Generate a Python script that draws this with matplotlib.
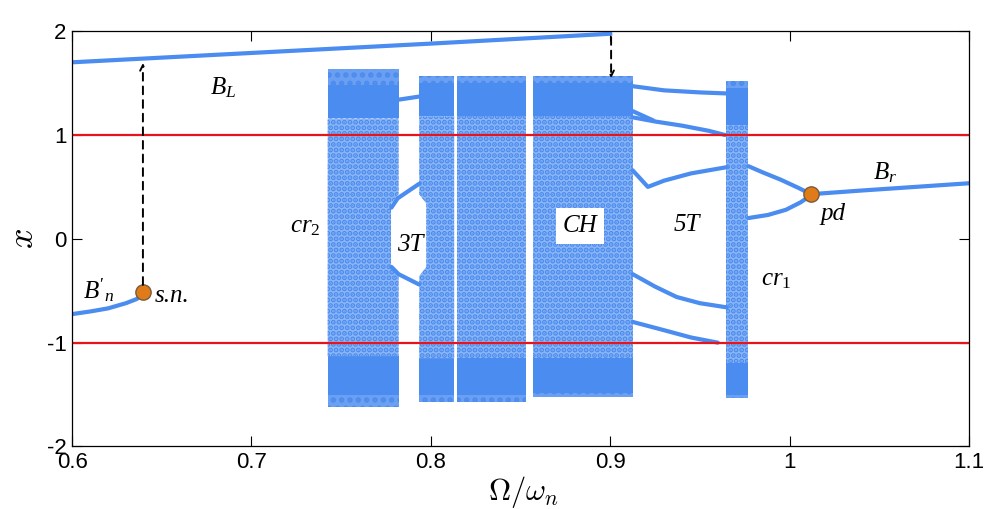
import numpy as np
import matplotlib.pyplot as plt

plt.rcParams['mathtext.fontset'] = 'custom'
plt.rcParams['mathtext.rm'] = 'Liberation Serif'
plt.rcParams['mathtext.it'] = 'Liberation Serif:italic'
plt.rcParams['hatch.linewidth'] = 2.6
plt.rcParams['axes.unicode_minus'] = False

# periodic branches (Omega/omega_n, x)
om_BL = [0.6, 0.7, 0.8, 0.9]
x_BL = [1.70, 1.79, 1.88, 1.975]
om_Bn = [0.6, 0.61, 0.62, 0.63, 0.636, 0.6395]
x_Bn = [-0.725, -0.70, -0.67, -0.62, -0.58, -0.53]
om_Br = [1.012, 1.04, 1.07, 1.1]
x_Br = [0.43, 0.465, 0.50, 0.535]

# 3T window
om_3T = [[0.782, 0.7935], [0.778, 0.7815, 0.7935], [0.778, 0.782, 0.7935]]
x_3T = [[1.34, 1.37], [0.30, 0.39, 0.53], [-0.27, -0.34, -0.44]]

# 5T window
om_5T = [[0.9125, 0.93, 0.95, 0.965],
         [0.9125, 0.925, 0.94, 0.955, 0.964],
         [0.9125, 0.924],
         [0.9125, 0.921, 0.93, 0.945, 0.965],
         [0.9125, 0.925, 0.937, 0.95, 0.965],
         [0.9125, 0.93, 0.945, 0.96]]
x_5T = [[1.47, 1.43, 1.41, 1.40],
        [1.17, 1.13, 1.09, 1.04, 1.0],
        [1.23, 1.14],
        [0.66, 0.50, 0.56, 0.63, 0.69],
        [-0.34, -0.46, -0.56, -0.62, -0.66],
        [-0.80, -0.88, -0.95, -1.0]]

# period-2 branches ending at pd
om_p2 = [[0.977, 0.985, 0.995, 1.005, 1.012], [0.977, 0.988, 0.998, 1.006, 1.012]]
x_p2 = [[0.70, 0.64, 0.57, 0.49, 0.43], [0.20, 0.23, 0.28, 0.35, 0.42]]

# chaotic bands
chaos_left = [0.7425, 0.7935, 0.8145, 0.857, 0.9645]
chaos_right = [0.782, 0.813, 0.853, 0.9125, 0.977]
chaos_top = [1.64, 1.57, 1.57, 1.57, 1.52]
chaos_bot = [-1.62, -1.57, -1.57, -1.52, -1.53]
dense_up = [(1.16, 1.48), (1.18, 1.50), (1.18, 1.50), (1.18, 1.50), (1.10, 1.45)]
dense_lo = [(-1.50, -1.13), (-1.50, -1.15), (-1.50, -1.15), (-1.48, -1.15), (-1.50, -1.20)]
# notch around the 3T window (sparse part): y levels and edge shifts
notch_y = [-0.36, -0.27, 0.34, 0.43]
cr2_right_notch = [0.782, 0.7778, 0.7778, 0.782]
bandB_left_notch = [0.7935, 0.7975, 0.7975, 0.7935]

sn_pt = (0.6395, -0.515)
pd_pt = (1.0118, 0.43)

blue = '#4a8cf0'
light = '#8db6f5'
mid = '#6a9ff2'

fig = plt.figure(figsize=(10.01, 5.09), dpi=100)
ax = fig.add_axes([0.072, 0.1228, 0.896, 0.816])

for i in range(len(chaos_left)):
    xs = [chaos_left[i], chaos_right[i]]
    ax.fill_between(xs, dense_up[i][1], chaos_top[i], facecolor=mid, edgecolor=blue, hatch='..', lw=0)
    ax.fill_between(xs, dense_up[i][0], dense_up[i][1], color=blue, lw=0)
    ax.fill_between(xs, dense_lo[i][0], dense_lo[i][1], color=blue, lw=0)
    ax.fill_between(xs, chaos_bot[i], dense_lo[i][0], facecolor=mid, edgecolor=blue, hatch='..', lw=0)
    ys = [dense_lo[i][1]] + notch_y + [dense_up[i][0]]
    left = [chaos_left[i]] * len(ys)
    right = [chaos_right[i]] * len(ys)
    if i == 0:
        right = [chaos_right[i]] + cr2_right_notch + [chaos_right[i]]
    if i == 1:
        left = [chaos_left[i]] + bandB_left_notch + [chaos_left[i]]
    ax.fill_betweenx(ys, left, right, facecolor=light, edgecolor=blue, hatch='...', lw=0)

lw = 3
ax.plot(om_BL, x_BL, color=blue, lw=lw)
ax.plot(om_Bn, x_Bn, color=blue, lw=lw)
ax.plot(om_Br, x_Br, color=blue, lw=lw)
for o, v in zip(om_3T + om_5T + om_p2, x_3T + x_5T + x_p2):
    ax.plot(o, v, color=blue, lw=lw, solid_capstyle='round')

ax.axhline(1, color='#e8141c', lw=1.6)
ax.axhline(-1, color='#e8141c', lw=1.6)

# jump arrows
ax.annotate('', xy=(0.6395, 1.72), xytext=(0.6395, -0.47),
            arrowprops=dict(arrowstyle='->', color='k', lw=1.4, ls=(0, (4, 3))))
ax.annotate('', xy=(0.9005, 1.52), xytext=(0.9005, 1.97),
            arrowprops=dict(arrowstyle='->', color='k', lw=1.4, ls=(0, (4, 3))))

for p in (sn_pt, pd_pt):
    ax.plot(*p, 'o', ms=11, mfc='#e07b1a', mec='#7a5a3a', mew=1)

tk = dict(fontsize=18, fontstyle='italic', family='Liberation Serif', ha='center', va='center')
ax.text(0.684, 1.46, r'$B_L$', **tk)
ax.text(0.615, -0.49, r"$B'_n$", **tk)
ax.text(0.656, -0.55, 's.n.', **tk)
ax.text(0.730, 0.11, r'$cr_2$', **tk)
ax.text(0.7885, -0.06, '3T', **tk)
ax.text(0.8832, 0.12, 'CH', bbox=dict(facecolor='white', edgecolor='none', pad=5), **tk)
ax.text(0.9428, 0.13, '5T', **tk)
ax.text(0.9924, -0.40, r'$cr_1$', **tk)
ax.text(1.0242, 0.24, 'pd', **tk)
ax.text(1.0532, 0.64, r'$B_r$', **tk)

ax.set_xlim(0.6, 1.1)
ax.set_ylim(-2, 2)
ax.set_xticks([0.6, 0.7, 0.8, 0.9, 1.0, 1.1])
ax.set_xticklabels(['0.6', '0.7', '0.8', '0.9', '1', '1.1'])
ax.set_yticks([-2, -1, 0, 1, 2])
ax.tick_params(direction='in', top=True, right=True, length=7, width=0.8,
               labelsize=16, pad=4)
for lab in ax.get_xticklabels() + ax.get_yticklabels():
    lab.set_family('Liberation Sans')
for s in ax.spines.values():
    s.set_linewidth(0.9)

ax.set_xlabel(r'$\Omega/\omega_n$', fontsize=22, math_fontfamily='cm')
ax.xaxis.set_label_coords(0.503, -0.066)
ax.set_ylabel(r'$x$', fontsize=26, math_fontfamily='cm')
ax.yaxis.set_label_coords(-0.036, 0.5)

fig.savefig('out.png', dpi=100)
